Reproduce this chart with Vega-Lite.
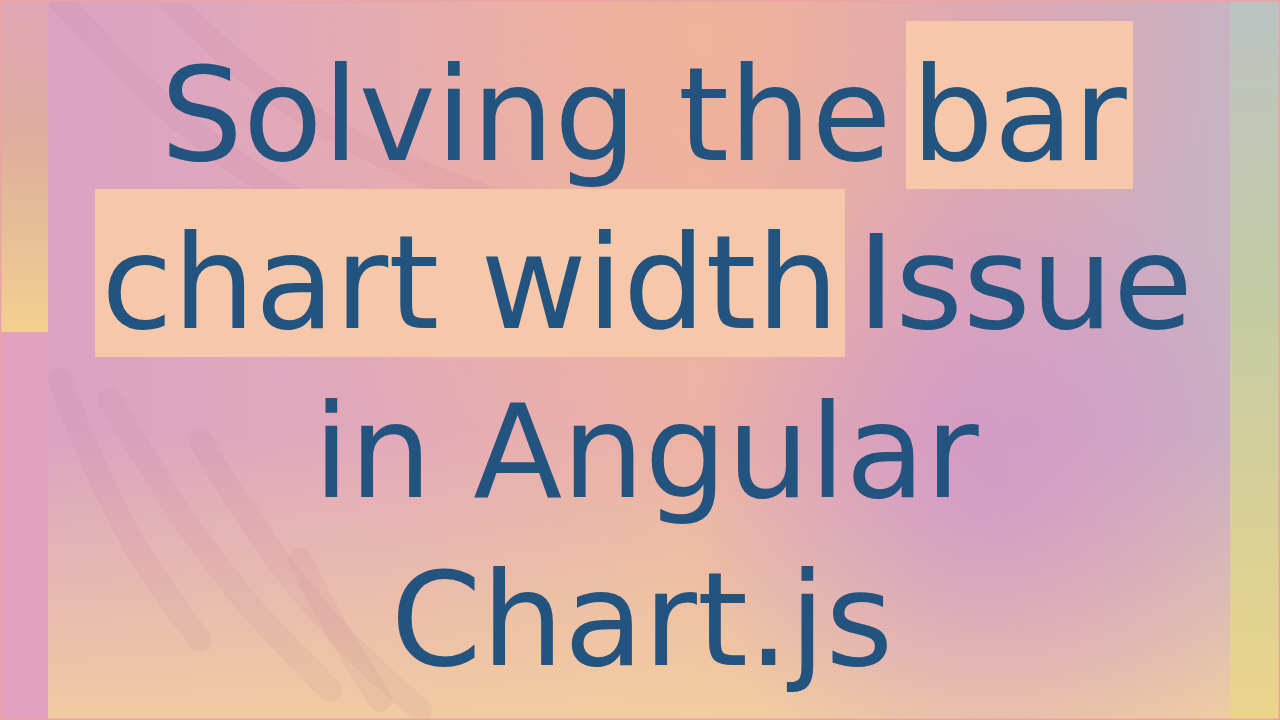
{
  "$schema": "https://vega.github.io/schema/vega-lite/v6.json",
  "autosize": "none",
  "width": 1280,
  "height": 720,
  "padding": 0,
  "background": "#dca6bd",
  "config": {"view": {"stroke": null}},
  "datasets": {
    "panel": [{"x": 0, "x2": 1280, "y": 0, "y2": 720}],
    "leftTop": [{"x": 0, "x2": 48, "y": 0, "y2": 332}],
    "leftBottom": [{"x": 0, "x2": 48, "y": 332, "y2": 720}],
    "right": [{"x": 1230, "x2": 1280, "y": 0, "y2": 720}],
    "boxes": [
      {"word": "bar", "x": 906, "x2": 1133, "y": 21, "y2": 189},
      {"word": "chart width", "x": 95, "x2": 845, "y": 189, "y2": 357}
    ],
    "folds": [
      {"fold": "a", "x": 60, "y": 0}, {"fold": "a", "x": 160, "y": 110}, {"fold": "a", "x": 300, "y": 210}, {"fold": "a", "x": 470, "y": 280},
      {"fold": "b", "x": 170, "y": 0}, {"fold": "b", "x": 260, "y": 90}, {"fold": "b", "x": 400, "y": 170}, {"fold": "b", "x": 560, "y": 220},
      {"fold": "c", "x": 60, "y": 380}, {"fold": "c", "x": 95, "y": 470}, {"fold": "c", "x": 140, "y": 560}, {"fold": "c", "x": 200, "y": 640},
      {"fold": "d", "x": 110, "y": 400}, {"fold": "d", "x": 170, "y": 500}, {"fold": "d", "x": 240, "y": 600}, {"fold": "d", "x": 330, "y": 690},
      {"fold": "e", "x": 200, "y": 440}, {"fold": "e", "x": 260, "y": 540}, {"fold": "e", "x": 340, "y": 640}, {"fold": "e", "x": 420, "y": 710},
      {"fold": "f", "x": 300, "y": 560}, {"fold": "f", "x": 330, "y": 620}, {"fold": "f", "x": 380, "y": 700}
    ],
    "lines": [
      {"text": "Solving the", "x": 526, "y": 160},
      {"text": "bar", "x": 1019, "y": 160},
      {"text": "chart width", "x": 470, "y": 328},
      {"text": "Issue", "x": 1025, "y": 328},
      {"text": "in Angular", "x": 646, "y": 497},
      {"text": "Chart.js", "x": 642, "y": 665}
    ]
  },
  "encoding": {
    "x": {"field": "x", "type": "quantitative", "scale": {"domain": [0, 1280], "nice": false, "zero": false}, "axis": null},
    "y": {"field": "y", "type": "quantitative", "scale": {"domain": [0, 720], "nice": false, "zero": false, "reverse": true}, "axis": null}
  },
  "layer": [
    {
      "data": {"name": "panel"},
      "mark": {
        "type": "rect",
        "color": {
          "gradient": "linear", "x1": 0, "y1": 0, "x2": 1, "y2": 0,
          "stops": [
            {"offset": 0, "color": "#dba2c3"},
            {"offset": 0.3, "color": "#e2a9bb"},
            {"offset": 0.55, "color": "#ebb2a6"},
            {"offset": 0.75, "color": "#d6a2c2"},
            {"offset": 1, "color": "#c6b6c2"}
          ]
        }
      },
      "encoding": {"x2": {"field": "x2"}, "y2": {"field": "y2"}}
    },
    {
      "data": {"name": "panel"},
      "mark": {
        "type": "rect",
        "color": {
          "gradient": "radial", "x1": 0.55, "y1": 0.25, "r1": 0, "x2": 0.55, "y2": 0.25, "r2": 0.4,
          "stops": [
            {"offset": 0, "color": "rgba(240,178,150,0.75)"},
            {"offset": 1, "color": "rgba(240,178,150,0)"}
          ]
        }
      },
      "encoding": {"x2": {"field": "x2"}, "y2": {"field": "y2"}}
    },
    {
      "data": {"name": "panel"},
      "mark": {
        "type": "rect",
        "color": {
          "gradient": "linear", "x1": 0, "y1": 0.6, "x2": 0, "y2": 1,
          "stops": [
            {"offset": 0, "color": "rgba(242,206,160,0)"},
            {"offset": 1, "color": "rgba(242,208,158,0.9)"}
          ]
        }
      },
      "encoding": {"x2": {"field": "x2"}, "y2": {"field": "y2"}}
    },
    {
      "data": {"name": "panel"},
      "mark": {
        "type": "rect",
        "color": {
          "gradient": "radial", "x1": 0.78, "y1": 0.6, "r1": 0, "x2": 0.78, "y2": 0.6, "r2": 0.25,
          "stops": [
            {"offset": 0, "color": "rgba(210,150,200,0.7)"},
            {"offset": 1, "color": "rgba(210,150,200,0)"}
          ]
        }
      },
      "encoding": {"x2": {"field": "x2"}, "y2": {"field": "y2"}}
    },
    {
      "data": {"name": "folds"},
      "mark": {"type": "line", "interpolate": "basis", "strokeWidth": 24, "color": "#b86a95", "opacity": 0.09, "strokeCap": "round"},
      "encoding": {"detail": {"field": "fold"}, "order": {"field": "y", "type": "quantitative"}}
    },
    {
      "data": {"name": "leftTop"},
      "mark": {
        "type": "rect",
        "color": {
          "gradient": "linear", "x1": 0, "y1": 0, "x2": 0, "y2": 1,
          "stops": [
            {"offset": 0, "color": "#e1a6b6"},
            {"offset": 0.4, "color": "#dfac9e"},
            {"offset": 1, "color": "#f1d08f"}
          ]
        }
      },
      "encoding": {"x2": {"field": "x2"}, "y2": {"field": "y2"}}
    },
    {
      "data": {"name": "leftBottom"},
      "mark": {"type": "rect", "color": "#e2a2bf"},
      "encoding": {"x2": {"field": "x2"}, "y2": {"field": "y2"}}
    },
    {
      "data": {"name": "right"},
      "mark": {
        "type": "rect",
        "color": {
          "gradient": "linear", "x1": 0, "y1": 0, "x2": 0, "y2": 1,
          "stops": [
            {"offset": 0, "color": "#bcc2c2"},
            {"offset": 0.4, "color": "#c2cba4"},
            {"offset": 1, "color": "#ecd48a"}
          ]
        }
      },
      "encoding": {"x2": {"field": "x2"}, "y2": {"field": "y2"}}
    },
    {
      "data": {"name": "panel"},
      "mark": {"type": "rect", "fill": null, "stroke": "#eba4a4", "strokeWidth": 3},
      "encoding": {"x2": {"field": "x2"}, "y2": {"field": "y2"}}
    },
    {
      "data": {"name": "boxes"},
      "mark": {"type": "rect", "color": "#f6c7a8"},
      "encoding": {"x2": {"field": "x2"}, "y2": {"field": "y2"}}
    },
    {
      "data": {"name": "lines"},
      "mark": {"type": "text", "font": "DejaVu Sans", "fontSize": 130, "align": "center", "baseline": "alphabetic", "color": "#23537f"},
      "encoding": {"text": {"field": "text"}}
    }
  ]
}
